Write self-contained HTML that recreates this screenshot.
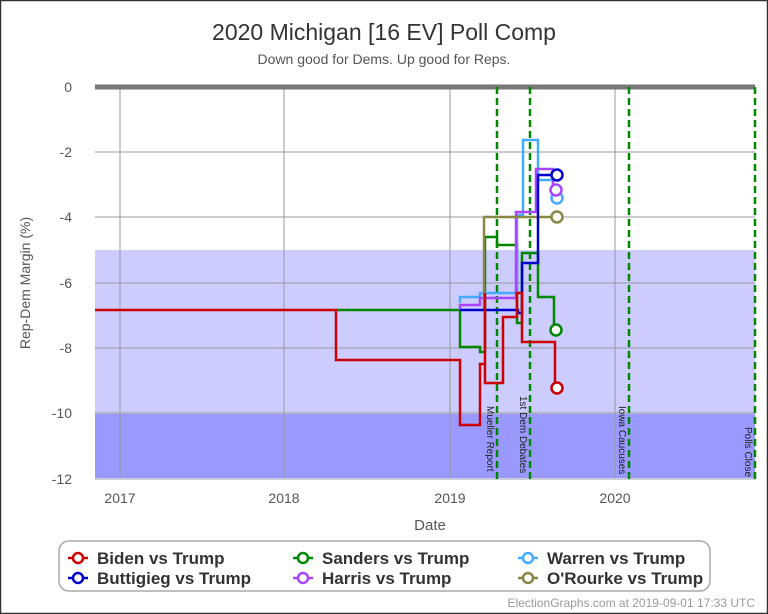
<!DOCTYPE html>
<html><head><style>html,body{margin:0;padding:0;background:#fff}svg{display:block}</style></head><body>
<svg width="768" height="614" viewBox="0 0 768 614" xmlns="http://www.w3.org/2000/svg" font-family="Liberation Sans, sans-serif">
<rect x="0.5" y="0.5" width="767" height="613" fill="#fff" stroke="#333" stroke-width="1.5"/>
<text x="384" y="40" text-anchor="middle" font-size="23" fill="#333">2020 Michigan [16 EV] Poll Comp</text>
<text x="384" y="64" text-anchor="middle" font-size="14" fill="#555">Down good for Dems. Up good for Reps.</text>
<rect x="95" y="250" width="660" height="164" fill="#ccccff"/>
<rect x="95" y="414" width="660" height="65" fill="#9999ff"/>
<g stroke="#999" stroke-width="1">
<line x1="95" y1="152" x2="755" y2="152"/><line x1="95" y1="217" x2="755" y2="217"/>
<line x1="95" y1="283" x2="755" y2="283"/><line x1="95" y1="348" x2="755" y2="348"/>
<line x1="95" y1="413" x2="755" y2="413"/>
<line x1="120" y1="87" x2="120" y2="479"/><line x1="284" y1="87" x2="284" y2="479"/>
<line x1="450" y1="87" x2="450" y2="479"/><line x1="615" y1="87" x2="615" y2="479"/>
</g>
<line x1="95" y1="479" x2="755" y2="479" stroke="#ccd" stroke-width="2"/>
<line x1="95" y1="87" x2="755" y2="87" stroke="#777" stroke-width="5"/>
<g font-size="14" fill="#555" text-anchor="end">
<text x="72" y="92">0</text><text x="72" y="157">-2</text><text x="72" y="222">-4</text>
<text x="72" y="288">-6</text><text x="72" y="353">-8</text><text x="72" y="418">-10</text><text x="72" y="484">-12</text>
</g>
<g font-size="14" fill="#555" text-anchor="middle">
<text x="120" y="503">2017</text><text x="284" y="503">2018</text><text x="450" y="503">2019</text><text x="615" y="503">2020</text>
<text x="430" y="530" font-size="15">Date</text>
</g>
<text transform="translate(30,283) rotate(-90)" text-anchor="middle" font-size="14" fill="#555">Rep-Dem Margin (%)</text>
<g stroke="#008800" stroke-width="2.5" stroke-dasharray="7,4">
<line x1="497" y1="87" x2="497" y2="479"/><line x1="530" y1="87" x2="530" y2="479"/>
<line x1="629" y1="87" x2="629" y2="479"/><line x1="755" y1="87" x2="755" y2="479"/>
</g>
<g font-size="10" fill="#222">
<text transform="translate(487,406) rotate(90)">Mueller Report</text>
<text transform="translate(520,396) rotate(90)">1st Dem Debates</text>
<text transform="translate(619,406) rotate(90)">Iowa Caucuses</text>
<text transform="translate(745,427) rotate(90)">Polls Close</text>
</g>
<g fill="none" stroke-width="2.5">
<polyline stroke="#008800" points="336,310 460,310 460,347 480,347 480,352 485,352 485,237 497,237 497,245 517,245 517,323 522,323 522,253 538,253 538,297 554,297 554,330"/>
<polyline stroke="#44aaff" points="460,303 460,297 480,297 480,293 517,293 517,215 523,215 523,140 538,140 538,180 553,180 553,198"/>
<polyline stroke="#aa44ff" points="460,310 460,305 480,305 480,298 516,298 516,212 536,212 536,169 553,169 553,190"/>
<polyline stroke="#888844" points="484,310 484,217 557,217"/>
<polyline stroke="#0000cc" points="460,310 518,310 518,313 522,313 522,263 538,263 538,175 557,175"/>
<polyline stroke="#cc0000" points="95,310 336,310 336,360 460,360 460,425 480,425 480,364 485,364 485,293 485,383 503,383 503,317 517,317 517,293 522,293 522,342 555,342 555,388"/>
</g>
<g fill="#fff" stroke-width="2.5">
<circle cx="557" cy="388" r="5.5" stroke="#cc0000"/>
<circle cx="556" cy="330" r="5.5" stroke="#008800"/>
<circle cx="557" cy="198" r="5.5" stroke="#44aaff"/>
<circle cx="556" cy="190" r="5.5" stroke="#aa44ff"/>
<circle cx="557" cy="217" r="5.5" stroke="#888844"/>
<circle cx="557" cy="175" r="5.5" stroke="#0000cc"/>
</g>
<rect x="59" y="541" width="651" height="50" rx="10" fill="#fff" stroke="#aaa" stroke-width="1.5"/>
<g stroke-width="2.5" fill="#fff">
<line x1="68" y1="558" x2="88" y2="558" stroke="#cc0000"/><circle cx="78" cy="558" r="5" stroke="#cc0000"/>
<line x1="68" y1="578" x2="88" y2="578" stroke="#0000cc"/><circle cx="78" cy="578" r="5" stroke="#0000cc"/>
<line x1="293" y1="558" x2="313" y2="558" stroke="#008800"/><circle cx="303" cy="558" r="5" stroke="#008800"/>
<line x1="293" y1="578" x2="313" y2="578" stroke="#aa44ff"/><circle cx="303" cy="578" r="5" stroke="#aa44ff"/>
<line x1="518" y1="558" x2="538" y2="558" stroke="#44aaff"/><circle cx="528" cy="558" r="5" stroke="#44aaff"/>
<line x1="518" y1="578" x2="538" y2="578" stroke="#888844"/><circle cx="528" cy="578" r="5" stroke="#888844"/>
</g>
<g font-size="17" font-weight="bold" fill="#333">
<text x="97" y="564">Biden vs Trump</text><text x="97" y="584">Buttigieg vs Trump</text>
<text x="322" y="564">Sanders vs Trump</text><text x="322" y="584">Harris vs Trump</text>
<text x="547" y="564">Warren vs Trump</text><text x="547" y="584">O'Rourke vs Trump</text>
</g>
<text x="755" y="607" text-anchor="end" font-size="12" fill="#999">ElectionGraphs.com at 2019-09-01 17:33 UTC</text>
</svg>
</body></html>
